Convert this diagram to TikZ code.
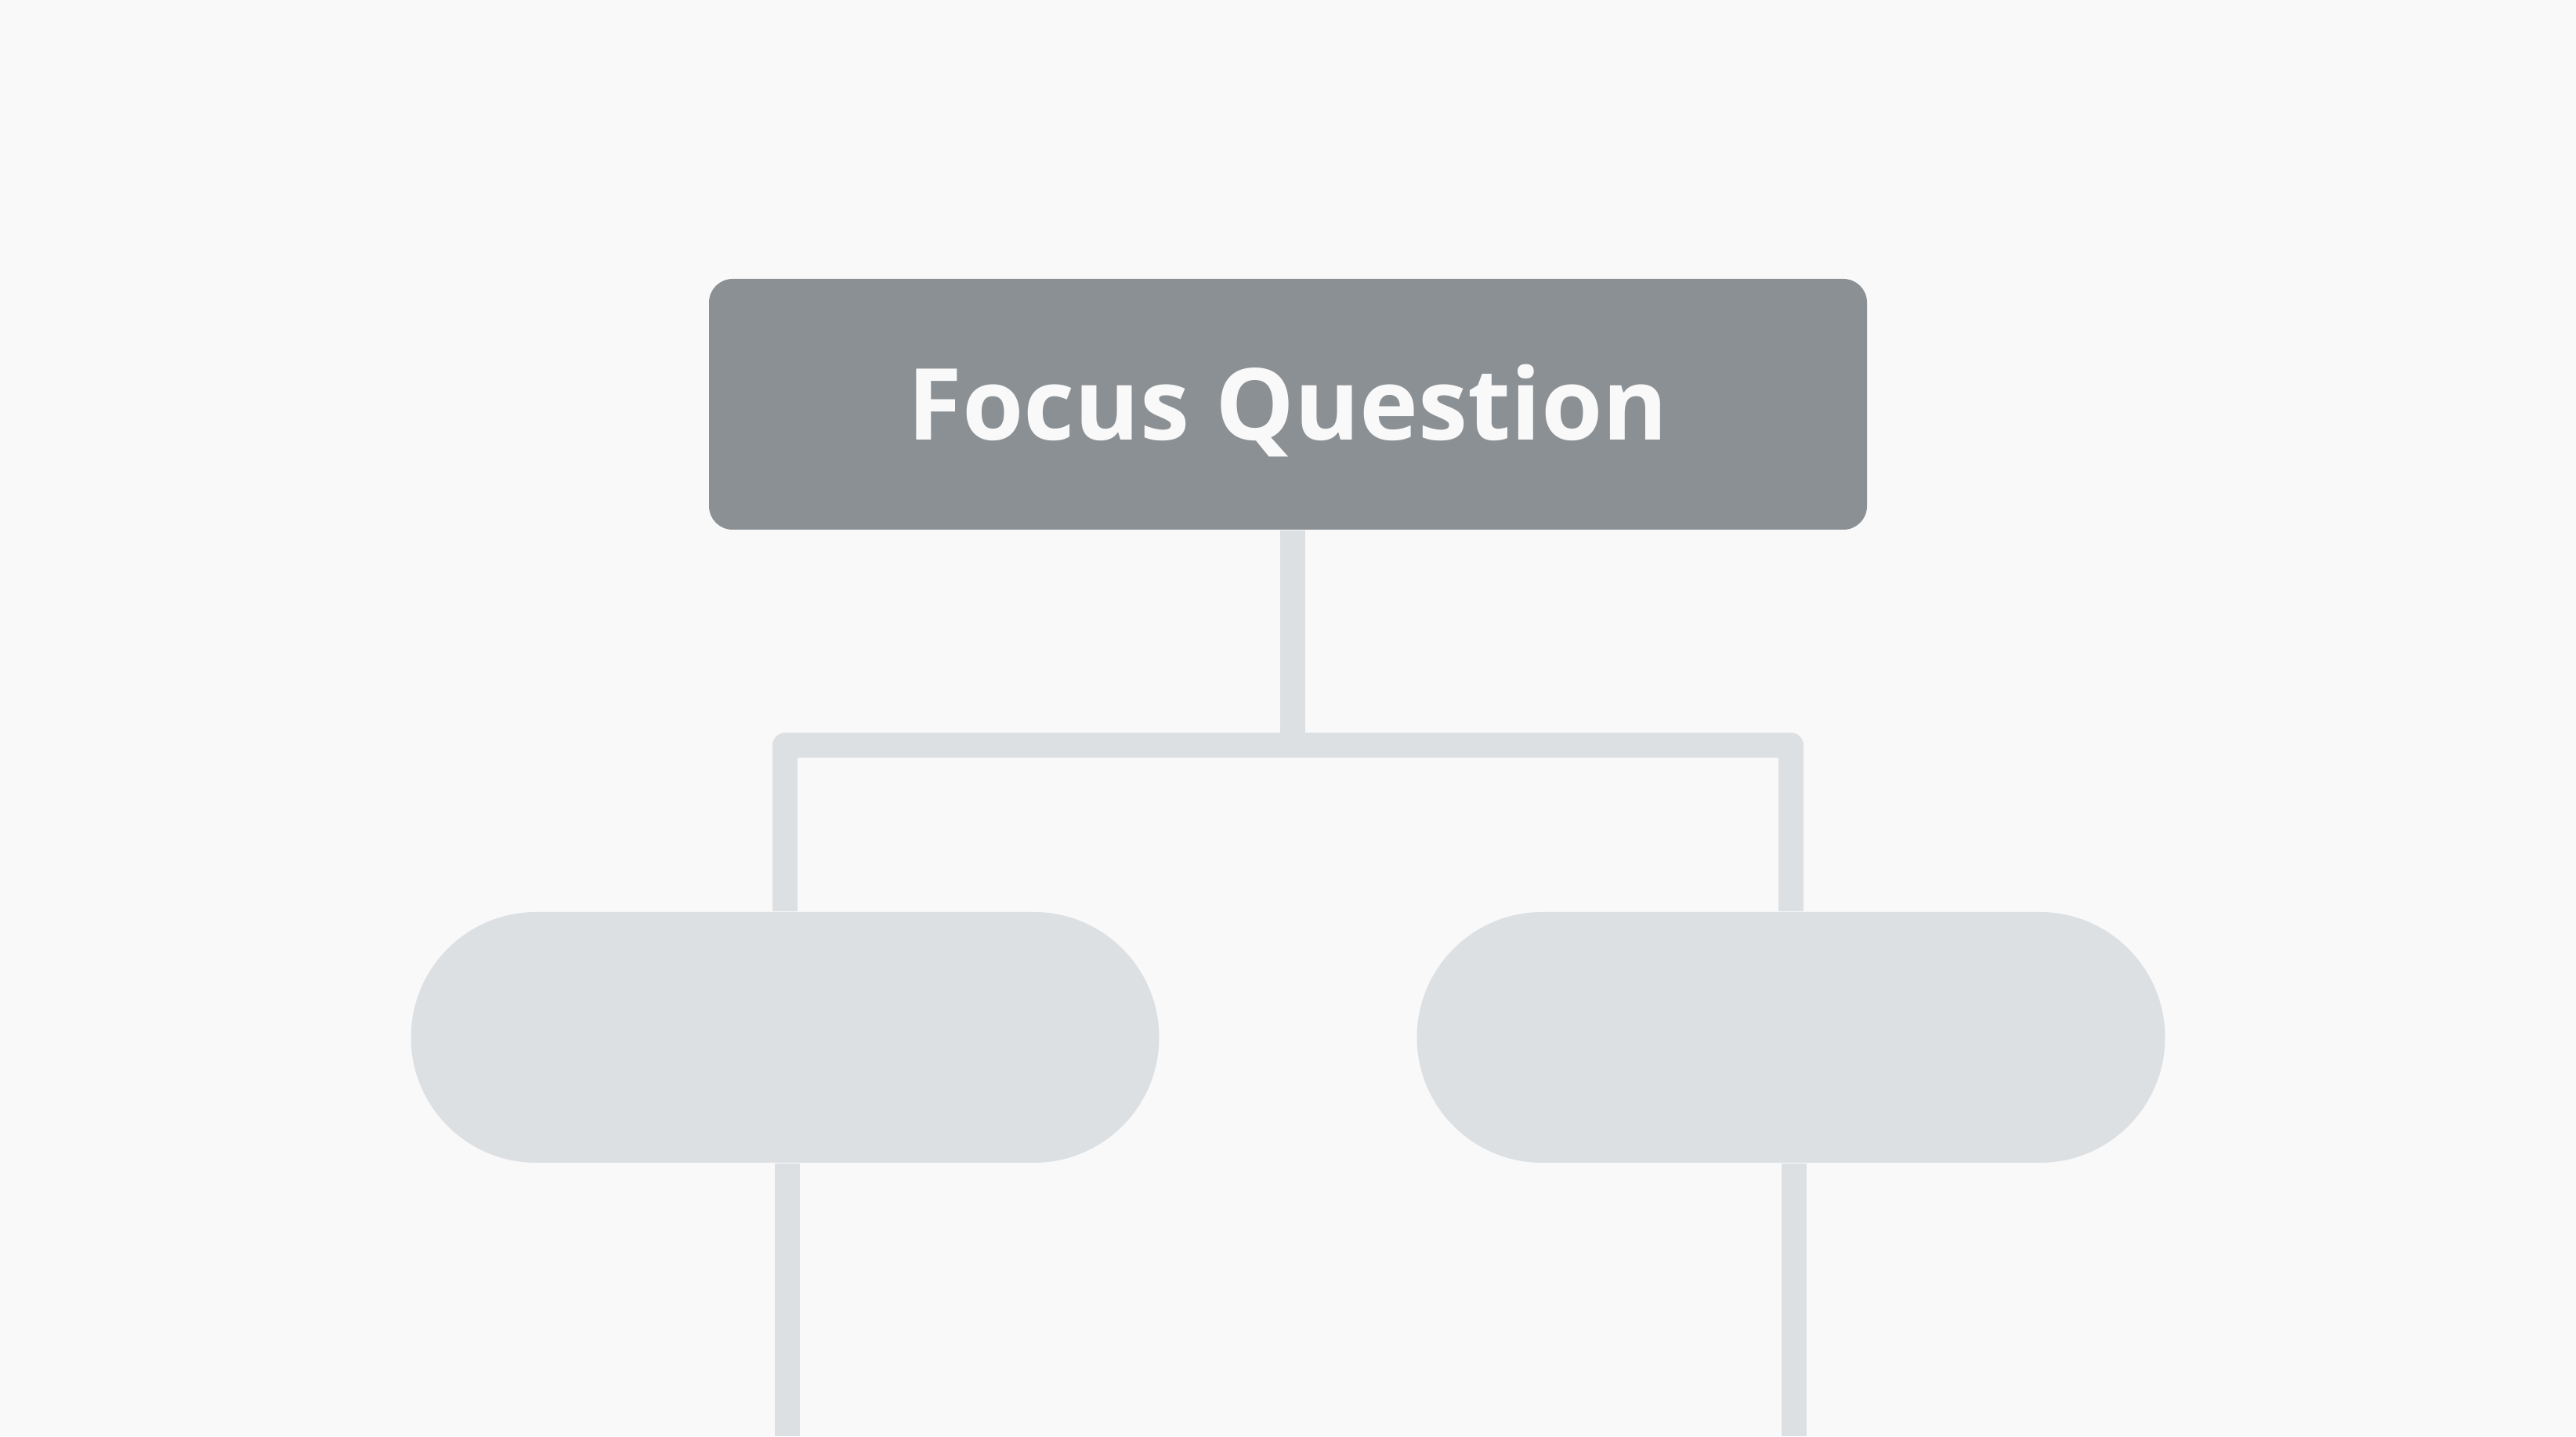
\documentclass[tikz,border=0pt]{standalone}
\usepackage{fontspec}
\setmainfont{Open Sans}
\definecolor{paper}{HTML}{F9F9F9}
\definecolor{qgray}{HTML}{8B9094}
\definecolor{lgray}{HTML}{DDE0E3}
\tikzset{
  qbox/.style={shape=rectangle, fill=qgray, rounded corners=0.3cm, minimum width=14.78cm, minimum height=3.2cm, inner sep=0pt, text=paper, font=\fontsize{36.1}{40}\selectfont\bfseries, text height=0.91cm, text depth=0pt},
  pill/.style={shape=rectangle, fill=lgray, rounded corners=1.6cm, minimum width=9.55cm, minimum height=3.2cm, inner sep=0pt},
  link/.style={draw=lgray, line width=0.32cm, line join=round}
}
\begin{document}
\begin{tikzpicture}
\useasboundingbox (0,0) rectangle (32.88,18.33);
\fill[paper] (0,0) rectangle (32.88,18.33);
\node[qbox] (Q) at (16.44, 13.17) {Focus Question};
\node[pill] (L) at (10.02, 5.09) {};
\node[pill] (R) at (22.86, 5.09) {};
\coordinate (J) at (16.495, 8.815);
\coordinate (LB) at (10.05, 0);
\coordinate (RB) at (22.90, 0);
\draw[link] (Q.south -| J) -- (J);
\draw[link] (L.north) |- (J) -| (R.north);
\draw[link] (L.south -| LB) -- (LB);
\draw[link] (R.south -| RB) -- (RB);
\end{tikzpicture}
\end{document}
